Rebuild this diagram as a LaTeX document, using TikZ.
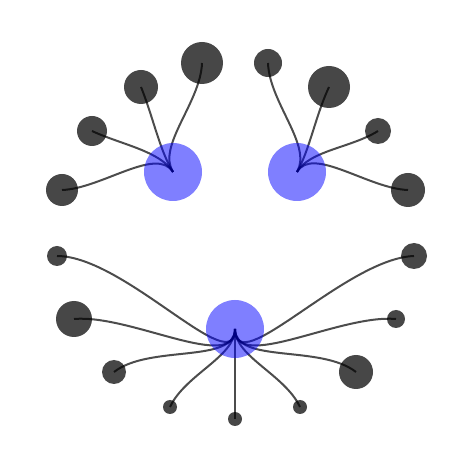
\documentclass[tikz,border=0pt]{standalone}
\usetikzlibrary{backgrounds}
\begin{document}
\begin{tikzpicture}[x=1pt,y=1pt,
	hub/.style={circle,fill=blue,fill opacity=0.5,inner sep=0pt,minimum size=58pt},
	leaf/.style={circle,fill=black,fill opacity=0.72,inner sep=0pt},
	link/.style={draw=black,draw opacity=0.7,line width=2pt,out looseness=0.9,in looseness=0.7}]
	\useasboundingbox (0,0) rectangle (474,474);
	\node [hub] (A) at (173,302) {};
	\node [hub] (B) at (297,302) {};
	\node [hub] (C) at (235,145) {};
	\node [leaf,minimum size=42pt] (a1) at (202,411) {};
	\node [leaf,minimum size=34pt] (a2) at (141,387) {};
	\node [leaf,minimum size=30pt] (a3) at (92,343) {};
	\node [leaf,minimum size=32pt] (a4) at (62,284) {};
	\node [leaf,minimum size=28pt] (b1) at (268,411) {};
	\node [leaf,minimum size=42pt] (b2) at (329,387) {};
	\node [leaf,minimum size=26pt] (b3) at (378,343) {};
	\node [leaf,minimum size=34pt] (b4) at (408,284) {};
	\node [leaf,minimum size=20pt] (c1) at (57,218) {};
	\node [leaf,minimum size=36pt] (c2) at (74,155) {};
	\node [leaf,minimum size=24pt] (c3) at (114,102) {};
	\node [leaf,minimum size=14pt] (c4) at (170,67) {};
	\node [leaf,minimum size=14pt] (c5) at (235,55) {};
	\node [leaf,minimum size=14pt] (c6) at (300,67) {};
	\node [leaf,minimum size=34pt] (c7) at (356,102) {};
	\node [leaf,minimum size=18pt] (c8) at (396,155) {};
	\node [leaf,minimum size=26pt] (c9) at (414,218) {};
	\begin{scope}[on background layer]
	\draw [link] (a1.center) to[out=268,in=122] (A.center);
	\draw [link] (a2.center) to[out=292,in=122] (A.center);
	\draw [link] (a3.center) to[out=335,in=122] (A.center);
	\draw [link] (a4.center) to[out=2,in=122] (A.center);
	\draw [link] (b1.center) to[out=272,in=60] (B.center);
	\draw [link] (b2.center) to[out=245,in=60] (B.center);
	\draw [link] (b3.center) to[out=212,in=60] (B.center);
	\draw [link] (b4.center) to[out=178,in=60] (B.center);
	\draw [link] (c1.center) to[out=0,in=270] (C.center);
	\draw [link] (c2.center) to[out=5,in=270] (C.center);
	\draw [link] (c3.center) to[out=38,in=270] (C.center);
	\draw [link] (c4.center) to[out=65,in=270] (C.center);
	\draw [link] (c5.center) -- (C.center);
	\draw [link] (c6.center) to[out=115,in=270] (C.center);
	\draw [link] (c7.center) to[out=142,in=270] (C.center);
	\draw [link] (c8.center) to[out=175,in=270] (C.center);
	\draw [link] (c9.center) to[out=182,in=270] (C.center);
	\end{scope}
\end{tikzpicture}
\end{document}
